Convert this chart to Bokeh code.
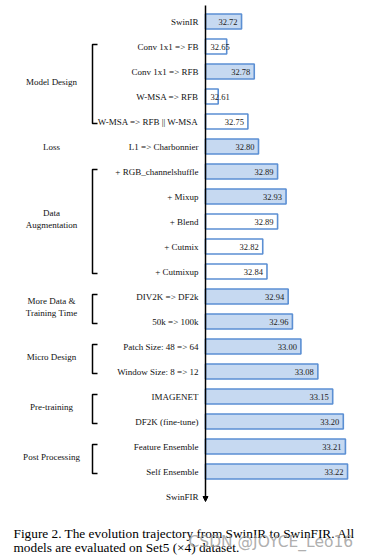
from bokeh.plotting import figure
from bokeh.models import Range1d, Arrow, NormalHead, ColumnDataSource
from bokeh.core.properties import value
from bokeh.embed import file_html
from bokeh.resources import INLINE

# ---------------- data ----------------
steps = ["SwinIR", "Conv 1x1 => FB", "Conv 1x1 => RFB", "W-MSA => RFB",
         "W-MSA => RFB || W-MSA", "L1 => Charbonnier", "+ RGB_channelshuffle",
         "+ Mixup", "+ Blend", "+ Cutmix", "+ Cutmixup", "DIV2K => DF2k",
         "50k => 100k", "Patch Size: 48 => 64", "Window Size: 8 => 12",
         "IMAGENET", "DF2K (fine-tune)", "Feature Ensemble", "Self Ensemble"]
psnr = [32.72, 32.65, 32.78, 32.61, 32.75, 32.80, 32.89, 32.93, 32.89, 32.82,
        32.84, 32.94, 32.96, 33.00, 33.08, 33.15, 33.20, 33.21, 33.22]
kept = [True, False, True, False, False, True, True, True, False, False,
        False, True, True, True, True, True, True, True, True]
final_label = "SwinFIR"
groups = ["Model Design", "Loss", "Data\nAugmentation", "More Data &\nTraining Time",
          "Micro Design", "Pre-training", "Post Processing"]
group_first = [1, 5, 6, 11, 13, 15, 17]
group_last = [4, 5, 10, 12, 14, 16, 18]
caption = ["Figure 2.  The evolution trajectory from SwinIR to SwinFIR. All",
           "models are evaluated on Set5 (\u00d74) dataset."]
watermark = "CSDN @JOYCE_Leo16"

# ---------------- layout ----------------
W, H = 371, 559
BASE = 32.55          # axis / bar origin
PX = 212.0            # pixels per PSNR unit
AXIS_PX = 205         # axis position in canvas px
ROW_PX = 25.0
ROW0_PX = 21          # canvas y of first row centre

def dx(px):
    return px / PX

def ry(py):
    return (py - ROW0_PX) / ROW_PX

x0 = BASE - dx(AXIS_PX)
x1 = BASE + dx(W - AXIS_PX)
y_top = ry(0)
y_bot = ry(H)

p = figure(width=W, height=H, output_backend="svg", toolbar_location=None,
           x_range=Range1d(x0, x1), y_range=Range1d(y_bot, y_top),
           min_border=0, min_border_left=0, min_border_right=0,
           min_border_top=0, min_border_bottom=0)
p.axis.visible = False
p.grid.visible = False
p.outline_line_color = None
p.background_fill_color = "white"
p.border_fill_color = "white"

SERIF = value("Liberation Serif")
FILL = "#c6d9f1"
EDGE = "#5b8fd3"

rows = list(range(len(steps)))
src = ColumnDataSource(dict(
    y=rows, right=psnr, label=steps,
    fill=[FILL if k else "white" for k in kept],
))
p.hbar(y="y", left=BASE, right="right", height=0.6, source=src,
       fill_color="fill", line_color=EDGE, line_width=1.6)

# value labels: right-aligned inside bar, or left-aligned if bar is short
long_rows = [i for i, v in enumerate(psnr) if (v - BASE) * PX >= 28]
short_rows = [i for i, v in enumerate(psnr) if (v - BASE) * PX < 28]
p.text(x=[psnr[i] for i in long_rows], y=long_rows,
       text=[f"{psnr[i]:.2f}" for i in long_rows], x_offset=-4,
       text_align="right", text_baseline="middle", text_font=SERIF,
       text_font_size="8.5px", text_color="#222222")
p.text(x=[BASE] * len(short_rows), y=short_rows,
       text=[f"{psnr[i]:.2f}" for i in short_rows], x_offset=5,
       text_align="left", text_baseline="middle", text_font=SERIF,
       text_font_size="8.5px", text_color="#222222")

# category labels
cat_y = rows + [len(steps)]
cat_t = steps + [final_label]
p.text(x=[BASE] * len(cat_t), y=cat_y, text=cat_t, x_offset=-7,
       text_align="right", text_baseline="middle", text_font=SERIF,
       text_font_size="9px", text_color="#111111")

# vertical axis with arrow
p.add_layout(Arrow(x_start=BASE, y_start=ry(5), x_end=BASE, y_end=len(steps) + 0.2,
                   line_width=1.5, line_color="black",
                   end=NormalHead(size=5, fill_color="black", line_color="black")))

# group brackets and labels
bx = BASE - dx(113)
tx = BASE - dx(108)
xs, ys = [], []
for a, b in zip(group_first, group_last):
    if b > a:
        xs.append([tx, bx, bx, tx])
        ys.append([a - 0.08, a - 0.08, b + 0.08, b + 0.08])
p.multi_line(xs, ys, line_color="black", line_width=1.5)

gy = [(a + b) / 2 - 0.1 if b > a else a for a, b in zip(group_first, group_last)]
p.text(x=[BASE - dx(154)] * len(groups), y=gy, text=groups,
       text_align="center", text_baseline="middle", text_font=SERIF,
       text_font_size="9px", text_color="#111111", text_line_height=1.2)

# caption
p.text(x=[BASE - dx(192)] * 2, y=[ry(533), ry(547)], text=caption,
       text_align="left", text_baseline="middle", text_font=SERIF,
       text_font_size="13.3px", text_color="black")
p.text(x=[BASE - dx(17)], y=[ry(541)], text=[watermark],
       text_align="left", text_baseline="middle", text_font=value("DejaVu Sans"),
       text_font_size="15.5px", text_color="#9a9a9a", text_alpha=0.8)

open("out.html", "w").write(file_html(p, INLINE))
